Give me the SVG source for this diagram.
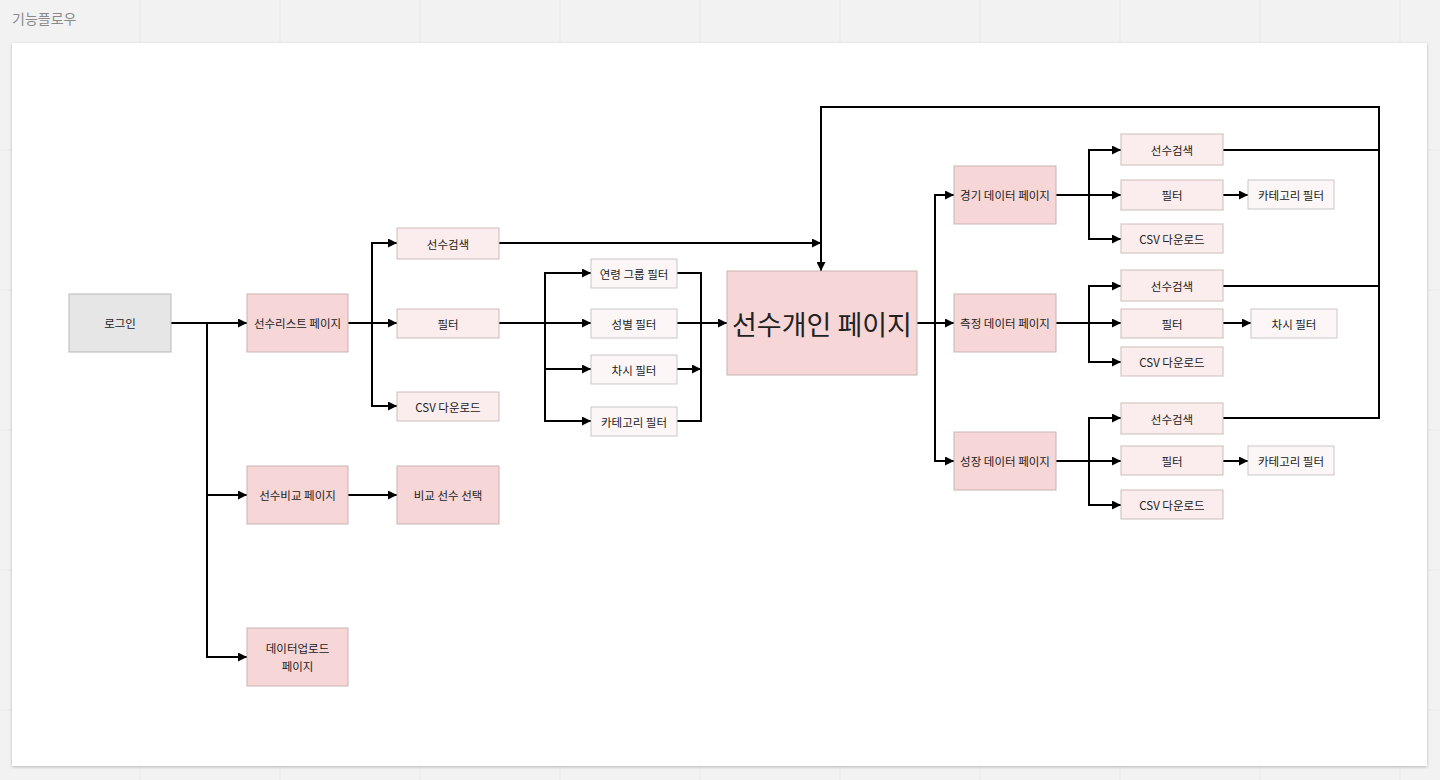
<svg xmlns="http://www.w3.org/2000/svg" width="1440" height="780" viewBox="0 0 1440 780">
<style>
text{font-family:"Noto Sans CJK KR","Noto Sans",sans-serif;font-size:11.5px;fill:#222;text-anchor:middle;dominant-baseline:central}
.g{fill:#e6e6e6;stroke:#b8b8b8}
.p{fill:#f6d6d6;stroke:#c9b3b3}
.l{fill:#fbeded;stroke:#cdbcbc}
.w{fill:#fcf6f6;stroke:#c8c8c8}
#edges path{fill:none;stroke:#000;stroke-width:2}
</style>
<defs>
<marker id="a" viewBox="0 0 10 10" refX="10" refY="5" markerWidth="9" markerHeight="9" markerUnits="userSpaceOnUse" orient="auto"><path d="M0,0L10,5L0,10z" fill="#000"/></marker>
<filter id="sh" x="-5%" y="-5%" width="110%" height="110%"><feDropShadow dx="0" dy="1" stdDeviation="1.5" flood-opacity="0.25"/></filter>
</defs>
<rect width="1440" height="780" fill="#f2f2f2"/>
<g stroke="#e8e8e8" stroke-width="1">
<path d="M0,150H1440M0,290H1440M0,430H1440M0,570H1440M0,710H1440M140,0V780M280,0V780M420,0V780M560,0V780M700,0V780M840,0V780M980,0V780M1120,0V780M1260,0V780M1400,0V780"/>
</g>
<text x="12" y="18" style="text-anchor:start;font-size:14px;fill:#8a8a8a">기능플로우</text>
<rect x="12" y="43" width="1415" height="723" fill="#fff" filter="url(#sh)"/>
<g id="edges" marker-end="url(#a)">
<path d="M171,323H247" marker-end="url(#a)"/>
<path d="M207,323V657H247" marker-end="url(#a)"/>
<path d="M207,495H247" marker-end="url(#a)"/>
<path d="M348,495H397" marker-end="url(#a)"/>
<path d="M348,323H397" marker-end="url(#a)"/>
<path d="M372,323V243H397" marker-end="url(#a)"/>
<path d="M372,323V406H397" marker-end="url(#a)"/>
<path d="M499,243H821"/>
<path d="M1223,150H1379M1223,286H1379M1223,418H1379V107H821V271" marker-end="url(#a)"/>
<path d="M499,323H591" marker-end="url(#a)"/>
<path d="M545,323V273H591" marker-end="url(#a)"/>
<path d="M545,323V369H591" marker-end="url(#a)"/>
<path d="M545,369V421H591" marker-end="url(#a)"/>
<path d="M677,273H701V421H677M677,323H701M677,369H701"/>
<path d="M701,323H727" marker-end="url(#a)"/>
<path d="M917,323H954" marker-end="url(#a)"/>
<path d="M935,323V195H954" marker-end="url(#a)"/>
<path d="M935,323V461H954" marker-end="url(#a)"/>
<path d="M1056,195H1121" marker-end="url(#a)"/>
<path d="M1089,195V150H1121" marker-end="url(#a)"/>
<path d="M1089,195V239H1121" marker-end="url(#a)"/>
<path d="M1056,323H1121" marker-end="url(#a)"/>
<path d="M1089,323V286H1121" marker-end="url(#a)"/>
<path d="M1089,323V362H1121" marker-end="url(#a)"/>
<path d="M1056,461H1121" marker-end="url(#a)"/>
<path d="M1089,461V418H1121" marker-end="url(#a)"/>
<path d="M1089,461V505H1121" marker-end="url(#a)"/>
<path d="M1223,195H1248" marker-end="url(#a)"/>
<path d="M1223,323H1251" marker-end="url(#a)"/>
<path d="M1223,461H1248" marker-end="url(#a)"/>
</g>
<g id="login"><rect class="g" x="69" y="294" width="102" height="58"/><text x="120" y="323">로그인</text></g>
<g id="plist"><rect class="p" x="247" y="294" width="101" height="58"/><text x="297.5" y="323">선수리스트 페이지</text></g>
<g id="pcmp"><rect class="p" x="247" y="466" width="101" height="58"/><text x="297.5" y="495">선수비교 페이지</text></g>
<g id="upload"><rect class="p" x="247" y="628" width="101" height="58"/><text x="297.5" y="648">데이터업로드</text><text x="297.5" y="666">페이지</text></g>
<g id="cmpsel"><rect class="p" x="397" y="466" width="102" height="58"/><text x="448" y="495">비교 선수 선택</text></g>
<g id="l-search"><rect class="l" x="397" y="228" width="102" height="31"/><text x="448" y="243.5">선수검색</text></g>
<g id="l-filter"><rect class="l" x="397" y="309" width="102" height="29"/><text x="448" y="323.5">필터</text></g>
<g id="l-csv"><rect class="l" x="397" y="392" width="102" height="29"/><text x="448" y="406.5">CSV 다운로드</text></g>
<g id="f-age"><rect class="w" x="591" y="259" width="86" height="29"/><text x="634" y="273.5">연령 그룹 필터</text></g>
<g id="f-sex"><rect class="w" x="591" y="309" width="86" height="29"/><text x="634" y="323.5">성별 필터</text></g>
<g id="f-round"><rect class="w" x="591" y="355" width="86" height="29"/><text x="634" y="369.5">차시 필터</text></g>
<g id="f-cat"><rect class="w" x="591" y="407" width="86" height="29"/><text x="634" y="421.5">카테고리 필터</text></g>
<g id="personal"><rect class="p" x="727" y="271" width="190" height="104"/><text x="822" y="323" style="font-size:27px">선수개인 페이지</text></g>
<g id="game"><rect class="p" x="954" y="166" width="102" height="58"/><text x="1005" y="195">경기 데이터 페이지</text></g>
<g id="meas"><rect class="p" x="954" y="294" width="102" height="58"/><text x="1005" y="323">측정 데이터 페이지</text></g>
<g id="grow"><rect class="p" x="954" y="432" width="102" height="58"/><text x="1005" y="461">성장 데이터 페이지</text></g>
<g id="g-s"><rect class="l" x="1121" y="134" width="102" height="31"/><text x="1172" y="149.5">선수검색</text></g>
<g id="g-f"><rect class="l" x="1121" y="180" width="102" height="30"/><text x="1172" y="195">필터</text></g>
<g id="g-c"><rect class="l" x="1121" y="224" width="102" height="29"/><text x="1172" y="238.5">CSV 다운로드</text></g>
<g id="m-s"><rect class="l" x="1121" y="270" width="102" height="31"/><text x="1172" y="285.5">선수검색</text></g>
<g id="m-f"><rect class="l" x="1121" y="309" width="102" height="29"/><text x="1172" y="323.5">필터</text></g>
<g id="m-c"><rect class="l" x="1121" y="347" width="102" height="29"/><text x="1172" y="361.5">CSV 다운로드</text></g>
<g id="r-s"><rect class="l" x="1121" y="403" width="102" height="31"/><text x="1172" y="418.5">선수검색</text></g>
<g id="r-f"><rect class="l" x="1121" y="446" width="102" height="29"/><text x="1172" y="460.5">필터</text></g>
<g id="r-c"><rect class="l" x="1121" y="490" width="102" height="29"/><text x="1172" y="504.5">CSV 다운로드</text></g>
<g id="g-cat"><rect class="w" x="1248" y="180" width="86" height="29"/><text x="1291" y="194.5">카테고리 필터</text></g>
<g id="m-round"><rect class="w" x="1251" y="309" width="86" height="29"/><text x="1294" y="323.5">차시 필터</text></g>
<g id="r-cat"><rect class="w" x="1248" y="446" width="86" height="29"/><text x="1291" y="460.5">카테고리 필터</text></g>
</svg>
